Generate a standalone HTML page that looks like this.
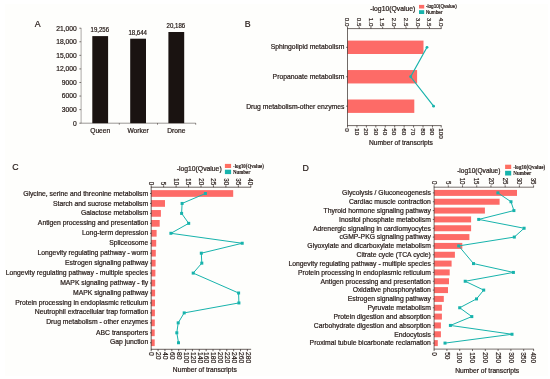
<!DOCTYPE html>
<html><head><meta charset="utf-8"><title>Figure</title>
<style>html,body{margin:0;padding:0;background:#fff}svg{display:block}text{font-family:"Liberation Sans", Arial, sans-serif;fill:#231815;stroke:#231815;stroke-width:0.2px}.tk{stroke-width:0.18px}.lg{stroke-width:0.12px}</style>
</head><body>
<svg width="550" height="379" viewBox="0 0 550 379">
<rect width="550" height="379" fill="#ffffff"/>
<rect x="5" y="4" width="543" height="372" fill="#fefefc"/>
<text x="34.80" y="26.60" font-size="8.8">A</text>
<line x1="81.10" y1="27.95" x2="81.10" y2="123.20" stroke="#6b6461" stroke-width="0.55"/>
<line x1="80.80" y1="123.20" x2="195.80" y2="123.20" stroke="#4a4340" stroke-width="0.55"/>
<line x1="79.30" y1="123.20" x2="81.10" y2="123.20" stroke="#231815" stroke-width="0.55"/>
<text transform="translate(76.70,125.50) scale(1.05,1)" font-size="6.4" text-anchor="end">0</text>
<line x1="79.30" y1="109.63" x2="81.10" y2="109.63" stroke="#231815" stroke-width="0.55"/>
<text transform="translate(76.70,111.93) scale(1.05,1)" font-size="6.4" text-anchor="end">3000</text>
<line x1="79.30" y1="96.06" x2="81.10" y2="96.06" stroke="#231815" stroke-width="0.55"/>
<text transform="translate(76.70,98.36) scale(1.05,1)" font-size="6.4" text-anchor="end">6000</text>
<line x1="79.30" y1="82.49" x2="81.10" y2="82.49" stroke="#231815" stroke-width="0.55"/>
<text transform="translate(76.70,84.79) scale(1.05,1)" font-size="6.4" text-anchor="end">9000</text>
<line x1="79.30" y1="68.91" x2="81.10" y2="68.91" stroke="#231815" stroke-width="0.55"/>
<text transform="translate(76.70,71.21) scale(1.05,1)" font-size="6.4" text-anchor="end">12,000</text>
<line x1="79.30" y1="55.34" x2="81.10" y2="55.34" stroke="#231815" stroke-width="0.55"/>
<text transform="translate(76.70,57.64) scale(1.05,1)" font-size="6.4" text-anchor="end">15,000</text>
<line x1="79.30" y1="41.77" x2="81.10" y2="41.77" stroke="#231815" stroke-width="0.55"/>
<text transform="translate(76.70,44.07) scale(1.05,1)" font-size="6.4" text-anchor="end">18,000</text>
<line x1="79.30" y1="28.20" x2="81.10" y2="28.20" stroke="#231815" stroke-width="0.55"/>
<text transform="translate(76.70,30.50) scale(1.05,1)" font-size="6.4" text-anchor="end">21,000</text>
<line x1="119.30" y1="123.20" x2="119.30" y2="124.70" stroke="#231815" stroke-width="0.55"/>
<line x1="157.50" y1="123.20" x2="157.50" y2="124.70" stroke="#231815" stroke-width="0.55"/>
<line x1="195.70" y1="123.20" x2="195.70" y2="124.70" stroke="#231815" stroke-width="0.55"/>
<rect x="92.30" y="36.10" width="15.80" height="87.10" fill="#1a1311"/>
<text x="100.20" y="132.70" font-size="6.65" text-anchor="middle">Queen</text>
<text transform="translate(99.80,31.90) scale(0.95,1)" font-size="6.4" text-anchor="middle">19,256</text>
<rect x="130.20" y="38.70" width="15.80" height="84.50" fill="#1a1311"/>
<text x="138.10" y="132.70" font-size="6.65" text-anchor="middle">Worker</text>
<text transform="translate(137.70,34.50) scale(0.95,1)" font-size="6.4" text-anchor="middle">18,644</text>
<rect x="168.40" y="32.00" width="15.80" height="91.20" fill="#1a1311"/>
<text x="176.30" y="132.70" font-size="6.65" text-anchor="middle">Drone</text>
<text transform="translate(175.90,27.80) scale(0.95,1)" font-size="6.4" text-anchor="middle">20,186</text>
<text x="244.75" y="26.50" font-size="8.8">B</text>
<rect x="347.50" y="40.60" width="76.00" height="13.40" fill="#fd6b67"/>
<rect x="347.50" y="70.05" width="69.60" height="13.40" fill="#fd6b67"/>
<rect x="347.50" y="99.50" width="66.80" height="13.40" fill="#fd6b67"/>
<line x1="347.50" y1="28.60" x2="347.50" y2="125.60" stroke="#231815" stroke-width="0.65"/>
<line x1="347.18" y1="28.60" x2="441.52" y2="28.60" stroke="#231815" stroke-width="0.65"/>
<line x1="347.18" y1="125.60" x2="441.52" y2="125.60" stroke="#231815" stroke-width="0.65"/>
<line x1="347.50" y1="28.60" x2="347.50" y2="26.70" stroke="#231815" stroke-width="0.65"/>
<text transform="translate(347.50,26.40) rotate(90) scale(1.0,1)" font-size="6.2" text-anchor="end" dy="0.36em" class="tk">0.0</text>
<line x1="359.21" y1="28.60" x2="359.21" y2="26.70" stroke="#231815" stroke-width="0.65"/>
<text transform="translate(359.21,26.40) rotate(90) scale(1.0,1)" font-size="6.2" text-anchor="end" dy="0.36em" class="tk">0.5</text>
<line x1="370.93" y1="28.60" x2="370.93" y2="26.70" stroke="#231815" stroke-width="0.65"/>
<text transform="translate(370.93,26.40) rotate(90) scale(1.0,1)" font-size="6.2" text-anchor="end" dy="0.36em" class="tk">1.0</text>
<line x1="382.64" y1="28.60" x2="382.64" y2="26.70" stroke="#231815" stroke-width="0.65"/>
<text transform="translate(382.64,26.40) rotate(90) scale(1.0,1)" font-size="6.2" text-anchor="end" dy="0.36em" class="tk">1.5</text>
<line x1="394.35" y1="28.60" x2="394.35" y2="26.70" stroke="#231815" stroke-width="0.65"/>
<text transform="translate(394.35,26.40) rotate(90) scale(1.0,1)" font-size="6.2" text-anchor="end" dy="0.36em" class="tk">2.0</text>
<line x1="406.06" y1="28.60" x2="406.06" y2="26.70" stroke="#231815" stroke-width="0.65"/>
<text transform="translate(406.06,26.40) rotate(90) scale(1.0,1)" font-size="6.2" text-anchor="end" dy="0.36em" class="tk">2.5</text>
<line x1="417.77" y1="28.60" x2="417.77" y2="26.70" stroke="#231815" stroke-width="0.65"/>
<text transform="translate(417.77,26.40) rotate(90) scale(1.0,1)" font-size="6.2" text-anchor="end" dy="0.36em" class="tk">3.0</text>
<line x1="429.49" y1="28.60" x2="429.49" y2="26.70" stroke="#231815" stroke-width="0.65"/>
<text transform="translate(429.49,26.40) rotate(90) scale(1.0,1)" font-size="6.2" text-anchor="end" dy="0.36em" class="tk">3.5</text>
<line x1="441.20" y1="28.60" x2="441.20" y2="26.70" stroke="#231815" stroke-width="0.65"/>
<text transform="translate(441.20,26.40) rotate(90) scale(1.0,1)" font-size="6.2" text-anchor="end" dy="0.36em" class="tk">4.0</text>
<line x1="347.50" y1="125.60" x2="347.50" y2="127.50" stroke="#231815" stroke-width="0.65"/>
<text transform="translate(347.50,128.20) rotate(90) scale(1.04,1)" font-size="6.1" dy="0.36em" class="tk">0</text>
<line x1="356.94" y1="125.60" x2="356.94" y2="127.50" stroke="#231815" stroke-width="0.65"/>
<text transform="translate(356.94,128.20) rotate(90) scale(1.04,1)" font-size="6.1" dy="0.36em" class="tk">10</text>
<line x1="366.38" y1="125.60" x2="366.38" y2="127.50" stroke="#231815" stroke-width="0.65"/>
<text transform="translate(366.38,128.20) rotate(90) scale(1.04,1)" font-size="6.1" dy="0.36em" class="tk">20</text>
<line x1="375.82" y1="125.60" x2="375.82" y2="127.50" stroke="#231815" stroke-width="0.65"/>
<text transform="translate(375.82,128.20) rotate(90) scale(1.04,1)" font-size="6.1" dy="0.36em" class="tk">30</text>
<line x1="385.26" y1="125.60" x2="385.26" y2="127.50" stroke="#231815" stroke-width="0.65"/>
<text transform="translate(385.26,128.20) rotate(90) scale(1.04,1)" font-size="6.1" dy="0.36em" class="tk">40</text>
<line x1="394.70" y1="125.60" x2="394.70" y2="127.50" stroke="#231815" stroke-width="0.65"/>
<text transform="translate(394.70,128.20) rotate(90) scale(1.04,1)" font-size="6.1" dy="0.36em" class="tk">50</text>
<line x1="404.14" y1="125.60" x2="404.14" y2="127.50" stroke="#231815" stroke-width="0.65"/>
<text transform="translate(404.14,128.20) rotate(90) scale(1.04,1)" font-size="6.1" dy="0.36em" class="tk">60</text>
<line x1="413.58" y1="125.60" x2="413.58" y2="127.50" stroke="#231815" stroke-width="0.65"/>
<text transform="translate(413.58,128.20) rotate(90) scale(1.04,1)" font-size="6.1" dy="0.36em" class="tk">70</text>
<line x1="423.02" y1="125.60" x2="423.02" y2="127.50" stroke="#231815" stroke-width="0.65"/>
<text transform="translate(423.02,128.20) rotate(90) scale(1.04,1)" font-size="6.1" dy="0.36em" class="tk">80</text>
<line x1="432.46" y1="125.60" x2="432.46" y2="127.50" stroke="#231815" stroke-width="0.65"/>
<text transform="translate(432.46,128.20) rotate(90) scale(1.04,1)" font-size="6.1" dy="0.36em" class="tk">90</text>
<line x1="441.20" y1="125.60" x2="441.20" y2="127.50" stroke="#231815" stroke-width="0.65"/>
<text transform="translate(441.20,128.20) rotate(90) scale(1.04,1)" font-size="6.1" dy="0.36em" class="tk">100</text>
<line x1="346.10" y1="47.30" x2="347.50" y2="47.30" stroke="#231815" stroke-width="0.65"/>
<text x="344.40" y="48.88" font-size="6.8" text-anchor="end">Sphingolipid metabolism</text>
<line x1="346.10" y1="76.75" x2="347.50" y2="76.75" stroke="#231815" stroke-width="0.65"/>
<text x="344.40" y="78.63" font-size="6.8" text-anchor="end">Propanoate metabolism</text>
<line x1="346.10" y1="106.20" x2="347.50" y2="106.20" stroke="#231815" stroke-width="0.65"/>
<text x="344.40" y="108.78" font-size="6.8" text-anchor="end">Drug metabolism-other enzymes</text>
<polyline fill="none" stroke="#17b3ac" stroke-width="1.2" stroke-linejoin="round" points="427.00,47.30 410.60,76.75 433.60,106.20"/>
<circle cx="427.00" cy="47.30" r="1.4" fill="#17b3ac"/>
<circle cx="410.60" cy="76.75" r="1.4" fill="#17b3ac"/>
<circle cx="433.60" cy="106.20" r="1.4" fill="#17b3ac"/>
<text x="392.80" y="11.10" font-size="6.8" text-anchor="middle">-log10(Qvalue)</text>
<text x="400.90" y="144.50" font-size="6.7" text-anchor="middle">Number of transcripts</text>
<rect x="419.00" y="4.90" width="5.20" height="3.60" fill="#fd6b67"/>
<rect x="419.00" y="10.20" width="5.20" height="3.80" fill="#17b3ac"/>
<text x="425.90" y="8.40" font-size="4.67">-log10(Qvalue)</text>
<text x="425.90" y="13.80" font-size="4.67">Number</text>
<text x="12.30" y="169.50" font-size="8.8">C</text>
<rect x="151.20" y="190.15" width="82.00" height="6.70" fill="#fd6b67"/>
<rect x="151.20" y="200.10" width="13.80" height="6.70" fill="#fd6b67"/>
<rect x="151.20" y="210.05" width="9.70" height="6.70" fill="#fd6b67"/>
<rect x="151.20" y="220.00" width="8.50" height="6.70" fill="#fd6b67"/>
<rect x="151.20" y="229.95" width="5.40" height="6.70" fill="#fd6b67"/>
<rect x="151.20" y="239.90" width="5.00" height="6.70" fill="#fd6b67"/>
<rect x="151.20" y="249.85" width="4.60" height="6.70" fill="#fd6b67"/>
<rect x="151.20" y="259.80" width="4.40" height="6.70" fill="#fd6b67"/>
<rect x="151.20" y="269.75" width="4.20" height="6.70" fill="#fd6b67"/>
<rect x="151.20" y="279.70" width="4.00" height="6.70" fill="#fd6b67"/>
<rect x="151.20" y="289.65" width="3.90" height="6.70" fill="#fd6b67"/>
<rect x="151.20" y="299.60" width="3.80" height="6.70" fill="#fd6b67"/>
<rect x="151.20" y="309.55" width="3.70" height="6.70" fill="#fd6b67"/>
<rect x="151.20" y="319.50" width="3.60" height="6.70" fill="#fd6b67"/>
<rect x="151.20" y="329.45" width="3.50" height="6.70" fill="#fd6b67"/>
<rect x="151.20" y="339.40" width="3.50" height="6.70" fill="#fd6b67"/>
<line x1="151.20" y1="187.20" x2="151.20" y2="349.30" stroke="#231815" stroke-width="0.68"/>
<line x1="150.86" y1="187.20" x2="251.14" y2="187.20" stroke="#231815" stroke-width="0.68"/>
<line x1="150.86" y1="349.30" x2="251.14" y2="349.30" stroke="#231815" stroke-width="0.68"/>
<line x1="151.20" y1="187.20" x2="151.20" y2="185.30" stroke="#231815" stroke-width="0.68"/>
<text transform="translate(151.20,185.10) rotate(90) scale(0.94,1)" font-size="6.6" text-anchor="end" dy="0.36em" class="tk">0</text>
<line x1="163.65" y1="187.20" x2="163.65" y2="185.30" stroke="#231815" stroke-width="0.68"/>
<text transform="translate(163.65,185.10) rotate(90) scale(0.94,1)" font-size="6.6" text-anchor="end" dy="0.36em" class="tk">5</text>
<line x1="176.10" y1="187.20" x2="176.10" y2="185.30" stroke="#231815" stroke-width="0.68"/>
<text transform="translate(176.10,185.10) rotate(90) scale(0.94,1)" font-size="6.6" text-anchor="end" dy="0.36em" class="tk">10</text>
<line x1="188.55" y1="187.20" x2="188.55" y2="185.30" stroke="#231815" stroke-width="0.68"/>
<text transform="translate(188.55,185.10) rotate(90) scale(0.94,1)" font-size="6.6" text-anchor="end" dy="0.36em" class="tk">15</text>
<line x1="201.00" y1="187.20" x2="201.00" y2="185.30" stroke="#231815" stroke-width="0.68"/>
<text transform="translate(201.00,185.10) rotate(90) scale(0.94,1)" font-size="6.6" text-anchor="end" dy="0.36em" class="tk">20</text>
<line x1="213.45" y1="187.20" x2="213.45" y2="185.30" stroke="#231815" stroke-width="0.68"/>
<text transform="translate(213.45,185.10) rotate(90) scale(0.94,1)" font-size="6.6" text-anchor="end" dy="0.36em" class="tk">25</text>
<line x1="225.90" y1="187.20" x2="225.90" y2="185.30" stroke="#231815" stroke-width="0.68"/>
<text transform="translate(225.90,185.10) rotate(90) scale(0.94,1)" font-size="6.6" text-anchor="end" dy="0.36em" class="tk">30</text>
<line x1="238.35" y1="187.20" x2="238.35" y2="185.30" stroke="#231815" stroke-width="0.68"/>
<text transform="translate(238.35,185.10) rotate(90) scale(0.94,1)" font-size="6.6" text-anchor="end" dy="0.36em" class="tk">35</text>
<line x1="250.80" y1="187.20" x2="250.80" y2="185.30" stroke="#231815" stroke-width="0.68"/>
<text transform="translate(250.80,185.10) rotate(90) scale(0.94,1)" font-size="6.6" text-anchor="end" dy="0.36em" class="tk">40</text>
<line x1="151.20" y1="349.30" x2="151.20" y2="351.20" stroke="#231815" stroke-width="0.68"/>
<text transform="translate(151.20,352.00) rotate(90) scale(1.05,1)" font-size="6.5" dy="0.36em" class="tk">0</text>
<line x1="158.07" y1="349.30" x2="158.07" y2="351.20" stroke="#231815" stroke-width="0.68"/>
<text transform="translate(158.16,352.00) rotate(90) scale(1.05,1)" font-size="6.5" dy="0.36em" class="tk">20</text>
<line x1="164.94" y1="349.30" x2="164.94" y2="351.20" stroke="#231815" stroke-width="0.68"/>
<text transform="translate(165.11,352.00) rotate(90) scale(1.05,1)" font-size="6.5" dy="0.36em" class="tk">40</text>
<line x1="171.81" y1="349.30" x2="171.81" y2="351.20" stroke="#231815" stroke-width="0.68"/>
<text transform="translate(172.06,352.00) rotate(90) scale(1.05,1)" font-size="6.5" dy="0.36em" class="tk">60</text>
<line x1="178.68" y1="349.30" x2="178.68" y2="351.20" stroke="#231815" stroke-width="0.68"/>
<text transform="translate(179.02,352.00) rotate(90) scale(1.05,1)" font-size="6.5" dy="0.36em" class="tk">80</text>
<line x1="185.55" y1="349.30" x2="185.55" y2="351.20" stroke="#231815" stroke-width="0.68"/>
<text transform="translate(185.97,352.00) rotate(90) scale(1.05,1)" font-size="6.5" dy="0.36em" class="tk">100</text>
<line x1="192.42" y1="349.30" x2="192.42" y2="351.20" stroke="#231815" stroke-width="0.68"/>
<text transform="translate(192.93,352.00) rotate(90) scale(1.05,1)" font-size="6.5" dy="0.36em" class="tk">120</text>
<line x1="199.29" y1="349.30" x2="199.29" y2="351.20" stroke="#231815" stroke-width="0.68"/>
<text transform="translate(199.88,352.00) rotate(90) scale(1.05,1)" font-size="6.5" dy="0.36em" class="tk">140</text>
<line x1="206.16" y1="349.30" x2="206.16" y2="351.20" stroke="#231815" stroke-width="0.68"/>
<text transform="translate(206.84,352.00) rotate(90) scale(1.05,1)" font-size="6.5" dy="0.36em" class="tk">160</text>
<line x1="213.03" y1="349.30" x2="213.03" y2="351.20" stroke="#231815" stroke-width="0.68"/>
<text transform="translate(213.79,352.00) rotate(90) scale(1.05,1)" font-size="6.5" dy="0.36em" class="tk">180</text>
<line x1="219.90" y1="349.30" x2="219.90" y2="351.20" stroke="#231815" stroke-width="0.68"/>
<text transform="translate(220.75,352.00) rotate(90) scale(1.05,1)" font-size="6.5" dy="0.36em" class="tk">200</text>
<line x1="226.77" y1="349.30" x2="226.77" y2="351.20" stroke="#231815" stroke-width="0.68"/>
<text transform="translate(227.70,352.00) rotate(90) scale(1.05,1)" font-size="6.5" dy="0.36em" class="tk">220</text>
<line x1="233.64" y1="349.30" x2="233.64" y2="351.20" stroke="#231815" stroke-width="0.68"/>
<text transform="translate(234.66,352.00) rotate(90) scale(1.05,1)" font-size="6.5" dy="0.36em" class="tk">240</text>
<line x1="240.51" y1="349.30" x2="240.51" y2="351.20" stroke="#231815" stroke-width="0.68"/>
<text transform="translate(241.62,352.00) rotate(90) scale(1.05,1)" font-size="6.5" dy="0.36em" class="tk">260</text>
<line x1="247.38" y1="349.30" x2="247.38" y2="351.20" stroke="#231815" stroke-width="0.68"/>
<text transform="translate(248.57,352.00) rotate(90) scale(1.05,1)" font-size="6.5" dy="0.36em" class="tk">280</text>
<line x1="150.00" y1="193.50" x2="151.20" y2="193.50" stroke="#231815" stroke-width="0.68"/>
<text x="148.20" y="195.88" font-size="6.8" text-anchor="end">Glycine, serine and threonine metabolism</text>
<line x1="150.00" y1="203.45" x2="151.20" y2="203.45" stroke="#231815" stroke-width="0.68"/>
<text x="148.20" y="205.73" font-size="6.8" text-anchor="end">Starch and sucrose metabolism</text>
<line x1="150.00" y1="213.40" x2="151.20" y2="213.40" stroke="#231815" stroke-width="0.68"/>
<text x="148.20" y="215.48" font-size="6.8" text-anchor="end">Galactose metabolism</text>
<line x1="150.00" y1="223.35" x2="151.20" y2="223.35" stroke="#231815" stroke-width="0.68"/>
<text x="148.20" y="225.13" font-size="6.8" text-anchor="end">Antigen processing and presentation</text>
<line x1="150.00" y1="233.30" x2="151.20" y2="233.30" stroke="#231815" stroke-width="0.68"/>
<text x="148.20" y="234.98" font-size="6.8" text-anchor="end">Long-term depression</text>
<line x1="150.00" y1="243.25" x2="151.20" y2="243.25" stroke="#231815" stroke-width="0.68"/>
<text x="148.20" y="245.03" font-size="6.8" text-anchor="end">Spliceosome</text>
<line x1="150.00" y1="253.20" x2="151.20" y2="253.20" stroke="#231815" stroke-width="0.68"/>
<text x="148.20" y="254.68" font-size="6.8" text-anchor="end">Longevity regulating pathway - worm</text>
<line x1="150.00" y1="263.15" x2="151.20" y2="263.15" stroke="#231815" stroke-width="0.68"/>
<text x="148.20" y="264.53" font-size="6.8" text-anchor="end">Estrogen signaling pathway</text>
<line x1="150.00" y1="273.10" x2="151.20" y2="273.10" stroke="#231815" stroke-width="0.68"/>
<text x="148.20" y="274.58" font-size="6.8" text-anchor="end">Longevity regulating pathway - multiple species</text>
<line x1="150.00" y1="283.05" x2="151.20" y2="283.05" stroke="#231815" stroke-width="0.68"/>
<text x="148.20" y="284.73" font-size="6.8" text-anchor="end">MAPK signaling pathway - fly</text>
<line x1="150.00" y1="293.00" x2="151.20" y2="293.00" stroke="#231815" stroke-width="0.68"/>
<text x="148.20" y="294.88" font-size="6.8" text-anchor="end">MAPK signaling pathway</text>
<line x1="150.00" y1="302.95" x2="151.20" y2="302.95" stroke="#231815" stroke-width="0.68"/>
<text x="148.20" y="304.73" font-size="6.8" text-anchor="end">Protein processing in endoplasmic reticulum</text>
<line x1="150.00" y1="312.90" x2="151.20" y2="312.90" stroke="#231815" stroke-width="0.68"/>
<text x="148.20" y="313.98" font-size="6.8" text-anchor="end">Neutrophil extracellular trap formation</text>
<line x1="150.00" y1="322.85" x2="151.20" y2="322.85" stroke="#231815" stroke-width="0.68"/>
<text x="148.20" y="323.63" font-size="6.8" text-anchor="end">Drug metabolism - other enzymes</text>
<line x1="150.00" y1="332.80" x2="151.20" y2="332.80" stroke="#231815" stroke-width="0.68"/>
<text x="148.20" y="334.98" font-size="6.8" text-anchor="end">ABC transporters</text>
<line x1="150.00" y1="342.75" x2="151.20" y2="342.75" stroke="#231815" stroke-width="0.68"/>
<text x="148.20" y="344.13" font-size="6.8" text-anchor="end">Gap junction</text>
<polyline fill="none" stroke="#17b3ac" stroke-width="1.0" stroke-linejoin="round" points="205.40,193.50 182.10,203.45 181.60,213.40 188.70,223.35 170.90,233.30 242.20,243.25 201.30,253.20 201.80,263.15 193.20,273.10 238.60,293.00 238.90,302.95 184.20,312.90 178.20,322.85 176.80,332.80 178.50,342.75"/>
<rect x="203.90" y="192.00" width="3.00" height="3.00" fill="#17b3ac"/>
<rect x="180.60" y="201.95" width="3.00" height="3.00" fill="#17b3ac"/>
<rect x="180.10" y="211.90" width="3.00" height="3.00" fill="#17b3ac"/>
<rect x="187.20" y="221.85" width="3.00" height="3.00" fill="#17b3ac"/>
<rect x="169.40" y="231.80" width="3.00" height="3.00" fill="#17b3ac"/>
<rect x="240.70" y="241.75" width="3.00" height="3.00" fill="#17b3ac"/>
<rect x="199.80" y="251.70" width="3.00" height="3.00" fill="#17b3ac"/>
<rect x="200.30" y="261.65" width="3.00" height="3.00" fill="#17b3ac"/>
<rect x="191.70" y="271.60" width="3.00" height="3.00" fill="#17b3ac"/>
<rect x="237.10" y="291.50" width="3.00" height="3.00" fill="#17b3ac"/>
<rect x="237.40" y="301.45" width="3.00" height="3.00" fill="#17b3ac"/>
<rect x="182.70" y="311.40" width="3.00" height="3.00" fill="#17b3ac"/>
<rect x="176.70" y="321.35" width="3.00" height="3.00" fill="#17b3ac"/>
<rect x="175.30" y="331.30" width="3.00" height="3.00" fill="#17b3ac"/>
<rect x="177.00" y="341.25" width="3.00" height="3.00" fill="#17b3ac"/>
<text x="199.20" y="171.20" font-size="6.8" text-anchor="middle">-log10(Qvalue)</text>
<text x="204.80" y="372.20" font-size="6.7" text-anchor="middle">Number of transcripts</text>
<rect x="224.90" y="163.90" width="6.20" height="4.10" fill="#fe6f62"/>
<rect x="224.90" y="169.70" width="6.20" height="4.40" fill="#17b3ac"/>
<text transform="translate(233.10,167.70) scale(0.87,1)" font-size="5.6" style='font-family:"Liberation Serif", "Times New Roman", serif' font-weight="bold" class="lg">-log10(Qvalue)</text>
<text transform="translate(233.10,173.70) scale(0.87,1)" font-size="5.6" style='font-family:"Liberation Serif", "Times New Roman", serif' font-weight="bold" class="lg">Number</text>
<text x="302.40" y="171.10" font-size="8.8">D</text>
<rect x="434.10" y="189.90" width="82.90" height="6.00" fill="#fd6b67"/>
<rect x="434.10" y="198.74" width="65.50" height="6.00" fill="#fd6b67"/>
<rect x="434.10" y="207.57" width="50.80" height="6.00" fill="#fd6b67"/>
<rect x="434.10" y="216.41" width="37.00" height="6.00" fill="#fd6b67"/>
<rect x="434.10" y="225.24" width="37.00" height="6.00" fill="#fd6b67"/>
<rect x="434.10" y="234.08" width="35.30" height="6.00" fill="#fd6b67"/>
<rect x="434.10" y="242.91" width="28.20" height="6.00" fill="#fd6b67"/>
<rect x="434.10" y="251.75" width="20.80" height="6.00" fill="#fd6b67"/>
<rect x="434.10" y="260.58" width="17.50" height="6.00" fill="#fd6b67"/>
<rect x="434.10" y="269.42" width="15.60" height="6.00" fill="#fd6b67"/>
<rect x="434.10" y="278.25" width="14.90" height="6.00" fill="#fd6b67"/>
<rect x="434.10" y="287.09" width="13.90" height="6.00" fill="#fd6b67"/>
<rect x="434.10" y="295.92" width="9.70" height="6.00" fill="#fd6b67"/>
<rect x="434.10" y="304.75" width="7.80" height="6.00" fill="#fd6b67"/>
<rect x="434.10" y="313.59" width="7.80" height="6.00" fill="#fd6b67"/>
<rect x="434.10" y="322.43" width="6.80" height="6.00" fill="#fd6b67"/>
<rect x="434.10" y="331.26" width="6.80" height="6.00" fill="#fd6b67"/>
<rect x="434.10" y="340.10" width="3.70" height="6.00" fill="#fd6b67"/>
<line x1="434.10" y1="187.20" x2="434.10" y2="349.10" stroke="#231815" stroke-width="0.62"/>
<line x1="433.79" y1="187.20" x2="533.91" y2="187.20" stroke="#231815" stroke-width="0.62"/>
<line x1="433.79" y1="349.10" x2="533.91" y2="349.10" stroke="#231815" stroke-width="0.62"/>
<line x1="434.10" y1="187.20" x2="434.10" y2="185.30" stroke="#231815" stroke-width="0.62"/>
<text transform="translate(434.10,184.50) rotate(90) scale(0.93,1)" font-size="6.6" text-anchor="end" dy="0.36em" class="tk">0</text>
<line x1="448.31" y1="187.20" x2="448.31" y2="185.30" stroke="#231815" stroke-width="0.62"/>
<text transform="translate(448.31,184.50) rotate(90) scale(0.93,1)" font-size="6.6" text-anchor="end" dy="0.36em" class="tk">5</text>
<line x1="462.53" y1="187.20" x2="462.53" y2="185.30" stroke="#231815" stroke-width="0.62"/>
<text transform="translate(462.53,184.50) rotate(90) scale(0.93,1)" font-size="6.6" text-anchor="end" dy="0.36em" class="tk">10</text>
<line x1="476.74" y1="187.20" x2="476.74" y2="185.30" stroke="#231815" stroke-width="0.62"/>
<text transform="translate(476.74,184.50) rotate(90) scale(0.93,1)" font-size="6.6" text-anchor="end" dy="0.36em" class="tk">15</text>
<line x1="490.96" y1="187.20" x2="490.96" y2="185.30" stroke="#231815" stroke-width="0.62"/>
<text transform="translate(490.96,184.50) rotate(90) scale(0.93,1)" font-size="6.6" text-anchor="end" dy="0.36em" class="tk">20</text>
<line x1="505.17" y1="187.20" x2="505.17" y2="185.30" stroke="#231815" stroke-width="0.62"/>
<text transform="translate(505.17,184.50) rotate(90) scale(0.93,1)" font-size="6.6" text-anchor="end" dy="0.36em" class="tk">25</text>
<line x1="519.39" y1="187.20" x2="519.39" y2="185.30" stroke="#231815" stroke-width="0.62"/>
<text transform="translate(519.39,184.50) rotate(90) scale(0.93,1)" font-size="6.6" text-anchor="end" dy="0.36em" class="tk">30</text>
<line x1="533.60" y1="187.20" x2="533.60" y2="185.30" stroke="#231815" stroke-width="0.62"/>
<text transform="translate(533.60,184.50) rotate(90) scale(0.93,1)" font-size="6.6" text-anchor="end" dy="0.36em" class="tk">35</text>
<line x1="434.10" y1="349.10" x2="434.10" y2="351.00" stroke="#231815" stroke-width="0.62"/>
<text transform="translate(434.10,352.20) rotate(90) scale(1.0,1)" font-size="6.6" dy="0.36em" class="tk">0</text>
<line x1="446.90" y1="349.10" x2="446.90" y2="351.00" stroke="#231815" stroke-width="0.62"/>
<text transform="translate(446.90,352.20) rotate(90) scale(1.0,1)" font-size="6.6" dy="0.36em" class="tk">50</text>
<line x1="459.70" y1="349.10" x2="459.70" y2="351.00" stroke="#231815" stroke-width="0.62"/>
<text transform="translate(459.70,352.20) rotate(90) scale(1.0,1)" font-size="6.6" dy="0.36em" class="tk">100</text>
<line x1="472.50" y1="349.10" x2="472.50" y2="351.00" stroke="#231815" stroke-width="0.62"/>
<text transform="translate(472.50,352.20) rotate(90) scale(1.0,1)" font-size="6.6" dy="0.36em" class="tk">150</text>
<line x1="485.30" y1="349.10" x2="485.30" y2="351.00" stroke="#231815" stroke-width="0.62"/>
<text transform="translate(485.30,352.20) rotate(90) scale(1.0,1)" font-size="6.6" dy="0.36em" class="tk">200</text>
<line x1="498.10" y1="349.10" x2="498.10" y2="351.00" stroke="#231815" stroke-width="0.62"/>
<text transform="translate(498.10,352.20) rotate(90) scale(1.0,1)" font-size="6.6" dy="0.36em" class="tk">250</text>
<line x1="510.90" y1="349.10" x2="510.90" y2="351.00" stroke="#231815" stroke-width="0.62"/>
<text transform="translate(510.90,352.20) rotate(90) scale(1.0,1)" font-size="6.6" dy="0.36em" class="tk">300</text>
<line x1="523.70" y1="349.10" x2="523.70" y2="351.00" stroke="#231815" stroke-width="0.62"/>
<text transform="translate(523.70,352.20) rotate(90) scale(1.0,1)" font-size="6.6" dy="0.36em" class="tk">350</text>
<line x1="533.60" y1="349.10" x2="533.60" y2="351.00" stroke="#231815" stroke-width="0.62"/>
<text transform="translate(533.60,352.20) rotate(90) scale(1.0,1)" font-size="6.6" dy="0.36em" class="tk">400</text>
<line x1="432.80" y1="192.90" x2="434.10" y2="192.90" stroke="#231815" stroke-width="0.62"/>
<text x="430.90" y="195.28" font-size="6.8" text-anchor="end">Glycolysis / Gluconeogenesis</text>
<line x1="432.80" y1="201.74" x2="434.10" y2="201.74" stroke="#231815" stroke-width="0.62"/>
<text x="430.90" y="204.12" font-size="6.8" text-anchor="end">Cardiac muscle contraction</text>
<line x1="432.80" y1="210.57" x2="434.10" y2="210.57" stroke="#231815" stroke-width="0.62"/>
<text x="430.90" y="212.95" font-size="6.8" text-anchor="end">Thyroid hormone signaling pathway</text>
<line x1="432.80" y1="219.41" x2="434.10" y2="219.41" stroke="#231815" stroke-width="0.62"/>
<text x="430.90" y="221.78" font-size="6.8" text-anchor="end">Inositol phosphate metabolism</text>
<line x1="432.80" y1="228.24" x2="434.10" y2="228.24" stroke="#231815" stroke-width="0.62"/>
<text x="430.90" y="230.62" font-size="6.8" text-anchor="end">Adrenergic signaling in cardiomyocytes</text>
<line x1="432.80" y1="237.08" x2="434.10" y2="237.08" stroke="#231815" stroke-width="0.62"/>
<text x="430.90" y="239.46" font-size="6.8" text-anchor="end">cGMP-PKG signaling pathway</text>
<line x1="432.80" y1="245.91" x2="434.10" y2="245.91" stroke="#231815" stroke-width="0.62"/>
<text x="430.90" y="248.29" font-size="6.8" text-anchor="end">Glyoxylate and dicarboxylate metabolism</text>
<line x1="432.80" y1="254.75" x2="434.10" y2="254.75" stroke="#231815" stroke-width="0.62"/>
<text x="430.90" y="257.12" font-size="6.8" text-anchor="end">Citrate cycle (TCA cycle)</text>
<line x1="432.80" y1="263.58" x2="434.10" y2="263.58" stroke="#231815" stroke-width="0.62"/>
<text x="430.90" y="265.96" font-size="6.8" text-anchor="end">Longevity regulating pathway - multiple species</text>
<line x1="432.80" y1="272.42" x2="434.10" y2="272.42" stroke="#231815" stroke-width="0.62"/>
<text x="430.90" y="274.80" font-size="6.8" text-anchor="end">Protein processing in endoplasmic reticulum</text>
<line x1="432.80" y1="281.25" x2="434.10" y2="281.25" stroke="#231815" stroke-width="0.62"/>
<text x="430.90" y="283.63" font-size="6.8" text-anchor="end">Antigen processing and presentation</text>
<line x1="432.80" y1="290.09" x2="434.10" y2="290.09" stroke="#231815" stroke-width="0.62"/>
<text x="430.90" y="292.47" font-size="6.8" text-anchor="end">Oxidative phosphorylation</text>
<line x1="432.80" y1="298.92" x2="434.10" y2="298.92" stroke="#231815" stroke-width="0.62"/>
<text x="430.90" y="301.30" font-size="6.8" text-anchor="end">Estrogen signaling pathway</text>
<line x1="432.80" y1="307.75" x2="434.10" y2="307.75" stroke="#231815" stroke-width="0.62"/>
<text x="430.90" y="310.13" font-size="6.8" text-anchor="end">Pyruvate metabolism</text>
<line x1="432.80" y1="316.59" x2="434.10" y2="316.59" stroke="#231815" stroke-width="0.62"/>
<text x="430.90" y="318.97" font-size="6.8" text-anchor="end">Protein digestion and absorption</text>
<line x1="432.80" y1="325.43" x2="434.10" y2="325.43" stroke="#231815" stroke-width="0.62"/>
<text x="430.90" y="327.81" font-size="6.8" text-anchor="end">Carbohydrate digestion and absorption</text>
<line x1="432.80" y1="334.26" x2="434.10" y2="334.26" stroke="#231815" stroke-width="0.62"/>
<text x="430.90" y="336.64" font-size="6.8" text-anchor="end">Endocytosis</text>
<line x1="432.80" y1="343.10" x2="434.10" y2="343.10" stroke="#231815" stroke-width="0.62"/>
<text x="430.90" y="345.48" font-size="6.8" text-anchor="end">Proximal tubule bicarbonate reclamation</text>
<polyline fill="none" stroke="#17b3ac" stroke-width="1.0" stroke-linejoin="round" points="497.90,192.90 511.00,201.74 513.90,210.57 478.70,219.41 524.10,228.24 514.30,237.08 458.70,245.91 473.50,263.58 513.40,272.42 465.20,281.25 483.70,290.09 476.50,298.92 459.70,307.75 471.80,316.59 450.40,325.43 512.00,334.26 445.00,343.10"/>
<rect x="496.40" y="191.40" width="3.00" height="3.00" fill="#17b3ac"/>
<rect x="509.50" y="200.24" width="3.00" height="3.00" fill="#17b3ac"/>
<rect x="512.40" y="209.07" width="3.00" height="3.00" fill="#17b3ac"/>
<rect x="477.20" y="217.91" width="3.00" height="3.00" fill="#17b3ac"/>
<rect x="522.60" y="226.74" width="3.00" height="3.00" fill="#17b3ac"/>
<rect x="512.80" y="235.58" width="3.00" height="3.00" fill="#17b3ac"/>
<rect x="457.20" y="244.41" width="3.00" height="3.00" fill="#17b3ac"/>
<rect x="472.00" y="262.08" width="3.00" height="3.00" fill="#17b3ac"/>
<rect x="511.90" y="270.92" width="3.00" height="3.00" fill="#17b3ac"/>
<rect x="463.70" y="279.75" width="3.00" height="3.00" fill="#17b3ac"/>
<rect x="482.20" y="288.59" width="3.00" height="3.00" fill="#17b3ac"/>
<rect x="475.00" y="297.42" width="3.00" height="3.00" fill="#17b3ac"/>
<rect x="458.20" y="306.25" width="3.00" height="3.00" fill="#17b3ac"/>
<rect x="470.30" y="315.09" width="3.00" height="3.00" fill="#17b3ac"/>
<rect x="448.90" y="323.93" width="3.00" height="3.00" fill="#17b3ac"/>
<rect x="510.50" y="332.76" width="3.00" height="3.00" fill="#17b3ac"/>
<rect x="443.50" y="341.60" width="3.00" height="3.00" fill="#17b3ac"/>
<text x="478.80" y="172.80" font-size="6.55" text-anchor="middle">-log10(Qvalue)</text>
<text x="487.20" y="372.70" font-size="6.7" text-anchor="middle">Number of transcripts</text>
<rect x="505.10" y="164.70" width="6.10" height="4.30" fill="#fe6f62"/>
<rect x="505.10" y="170.80" width="6.10" height="4.70" fill="#17b3ac"/>
<text transform="translate(513.30,169.00) scale(0.9,1)" font-size="5.6" style='font-family:"Liberation Serif", "Times New Roman", serif' font-weight="bold" class="lg">-log10(Qvalue)</text>
<text transform="translate(513.30,175.00) scale(0.9,1)" font-size="5.6" style='font-family:"Liberation Serif", "Times New Roman", serif' font-weight="bold" class="lg">Number</text>
</svg>
</body></html>
